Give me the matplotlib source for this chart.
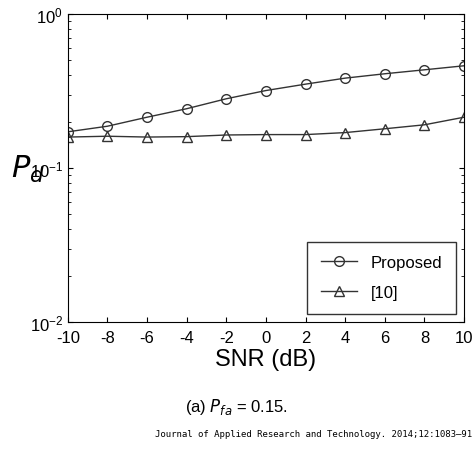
import matplotlib
matplotlib.use('Agg')
import matplotlib.pyplot as plt

snr = [-10, -8, -6, -4, -2, 0, 2, 4, 6, 8, 10]
pd_proposed = [0.172, 0.187, 0.214, 0.243, 0.282, 0.319, 0.351, 0.384, 0.410, 0.435, 0.462]
pd_ref10 = [0.159, 0.161, 0.159, 0.160, 0.164, 0.165, 0.165, 0.170, 0.180, 0.191, 0.214]

plt.rcParams['font.family'] = ['Liberation Sans', 'DejaVu Sans']
plt.rcParams['axes.unicode_minus'] = False

fig = plt.figure(figsize=(4.74, 4.6), dpi=100)
ax = fig.add_axes([0.143, 0.298, 0.836, 0.669])

ax.plot(snr, pd_proposed, color='#333333', lw=1, marker='o', ms=7, mfc='none', mec='#333333', label='Proposed')
ax.plot(snr, pd_ref10, color='#333333', lw=1, marker='^', ms=7, mfc='none', mec='#333333', label='[10]')

ax.set_yscale('log')
ax.set_ylim(1e-2, 1)
ax.set_xlim(-10, 10)
ax.set_xticks(snr)
ax.tick_params(which='both', direction='in', top=True, right=True, labelsize=12)
ax.tick_params(axis='x', pad=6)
ax.set_xlabel('SNR (dB)', fontsize=17, labelpad=2)
ax.set_ylabel('$P_d$', fontsize=22, rotation=0, labelpad=2, va='center')
ax.yaxis.set_label_coords(-0.1, 0.5)

leg = ax.legend(loc='lower right', fontsize=12, fancybox=False, edgecolor='black',
                handlelength=2.2, borderpad=0.8, labelspacing=0.9)
leg.get_frame().set_linewidth(1)

fig.text(0.5, 0.105, '(a) $P_{fa}$ = 0.15.', ha='center', fontsize=12)
fig.text(0.995, 0.05, 'Journal of Applied Research and Technology. 2014;12:1083\u201391',
         ha='right', fontsize=6.5, family='DejaVu Sans Mono')

fig.savefig('out.png', dpi=100)
